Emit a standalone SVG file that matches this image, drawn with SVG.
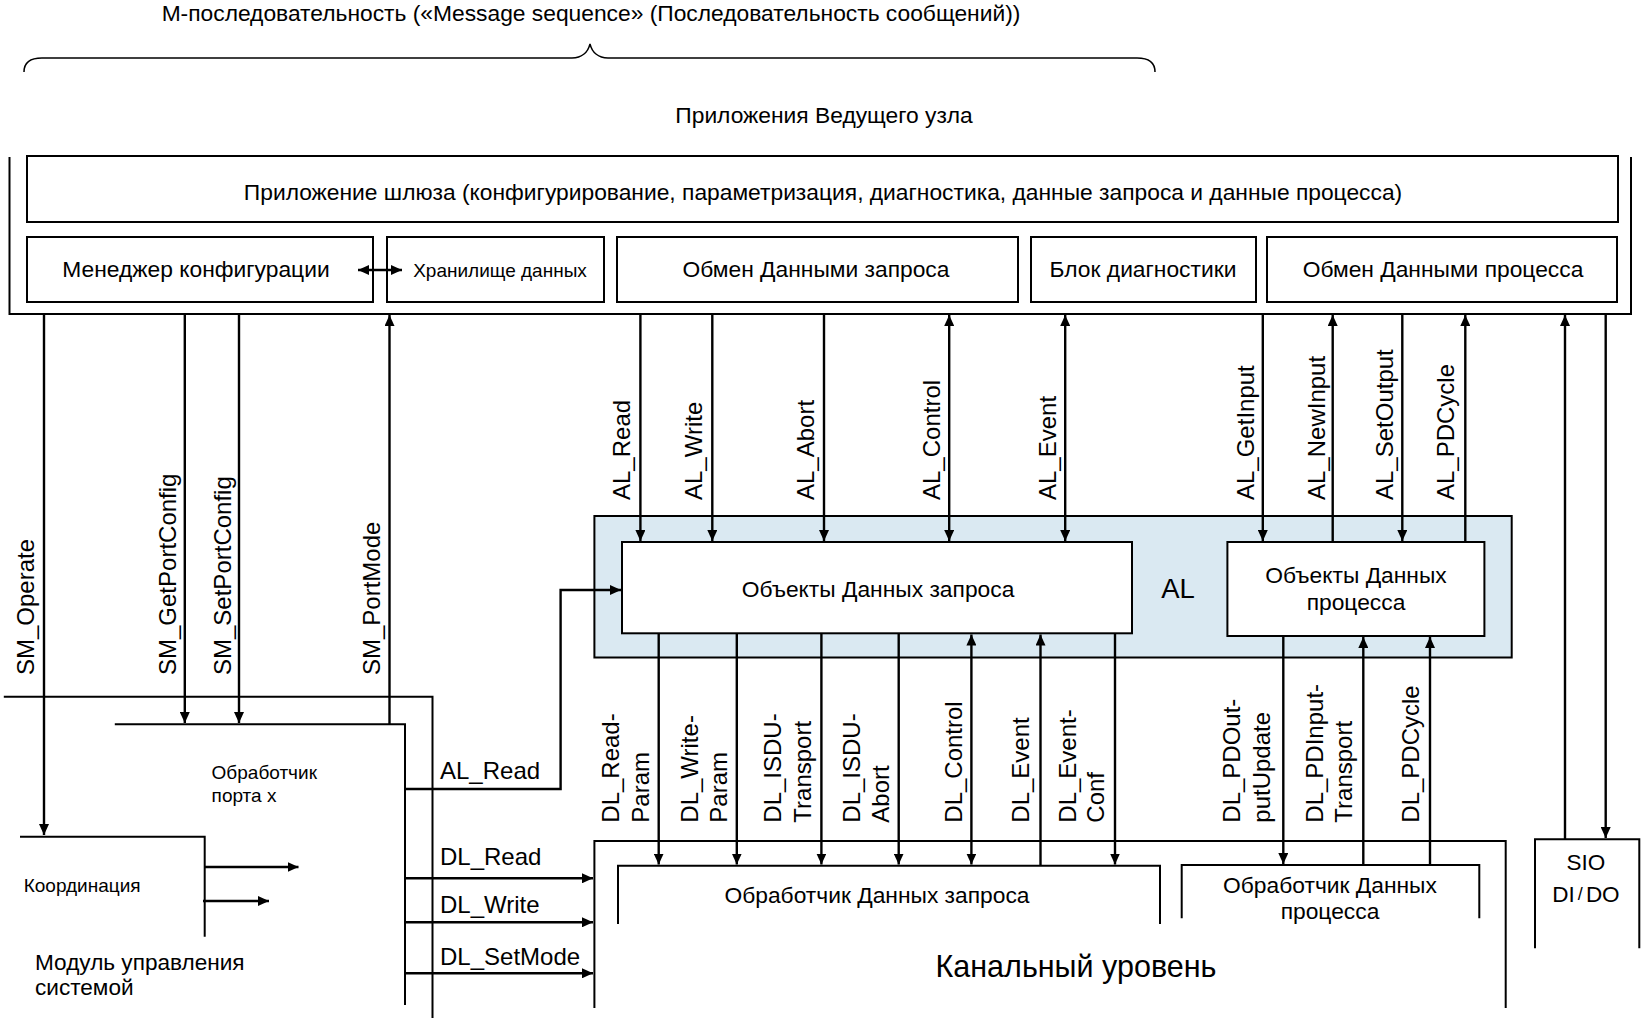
<svg xmlns="http://www.w3.org/2000/svg" width="1643" height="1023" viewBox="0 0 1643 1023">
<style>
.t{font-family:"Liberation Sans",Arial,sans-serif;fill:#000}
.m{text-anchor:middle}
.f22{font-size:22.8px}
.f19{font-size:19px}
.vl{font-family:"Liberation Sans",Arial,sans-serif;font-size:24px;fill:#000}
.box{fill:#fff;stroke:#000;stroke-width:2}
.ln{fill:none;stroke:#000;stroke-width:2}
.ar{fill:none;stroke:#000;stroke-width:2.4;marker-end:url(#ah)}
.ar2{fill:none;stroke:#000;stroke-width:2.4;marker-start:url(#ah);marker-end:url(#ah)}
</style>
<defs>
<marker id="ah" markerUnits="userSpaceOnUse" viewBox="0 0 11 10" markerWidth="11" markerHeight="10" refX="11" refY="5" orient="auto-start-reverse"><path d="M0,0 L11,5 L0,10 Z" fill="#000"/></marker>
</defs>
<rect width="1643" height="1023" fill="#fff"/>

<g id="title">
<text class="t f22 m" x="591" y="21">М-последовательность («Message sequence» (Последовательность сообщений))</text>
<path class="ln" style="stroke-width:1.5" d="M24,72 C24,63 30,58 42,58 L572,58 C582,58 588,52 590,44 C592,52 598,58 608,58 L1137,58 C1149,58 1155,63 1155,72"/>
</g>

<g id="master">
<text class="t f22 m" x="824" y="123">Приложения Ведущего узла</text>
<path class="ln" d="M9.5,157 V314 H1631 V157"/>
</g>

<g id="gateway">
<rect class="box" x="27" y="156" width="1591" height="66"/>
<text class="t f22 m" x="823" y="200">Приложение шлюза (конфигурирование, параметризация, диагностика, данные запроса и данные процесса)</text>
</g>

<g id="config-manager">
<rect class="box" x="27" y="237" width="346" height="65"/>
<text class="t f22 m" x="196" y="277">Менеджер конфигурации</text>
</g>
<g id="data-storage">
<rect class="box" x="387" y="237" width="217" height="65"/>
<text class="t f19 m" x="500" y="277">Хранилище данных</text>
</g>
<g id="odx">
<rect class="box" x="617" y="237" width="401" height="65"/>
<text class="t f22 m" x="816" y="277">Обмен Данными запроса</text>
</g>
<g id="diag">
<rect class="box" x="1031" y="237" width="225" height="65"/>
<text class="t f22 m" x="1143" y="277">Блок диагностики</text>
</g>
<g id="pdx">
<rect class="box" x="1267" y="237" width="350" height="65"/>
<text class="t f22 m" x="1443" y="277">Обмен Данными процесса</text>
</g>

<g id="al">
<rect x="594.4" y="516" width="917.3" height="141.5" fill="#dae9f2" stroke="#000" stroke-width="2"/>
<text class="t m" style="font-size:27.5px" x="1178" y="598">AL</text>
</g>
<g id="od-objects">
<rect class="box" x="622" y="542" width="510" height="91.3"/>
<text class="t f22 m" x="878" y="597">Объекты Данных запроса</text>
</g>
<g id="pd-objects">
<rect class="box" x="1227.4" y="542" width="257" height="94"/>
<text class="t f22 m" x="1356" y="583">Объекты Данных</text>
<text class="t f22 m" x="1356" y="610">процесса</text>
</g>

<g id="datalink">
<path class="ln" d="M594.4,1008 V841 H1505.7 V1008"/>
<text class="t m" style="font-size:30.5px" x="1076" y="977">Канальный уровень</text>
</g>
<g id="od-handler">
<path class="ln" d="M618,924 V865.7 H1160 V924"/>
<text class="t f22 m" x="877" y="903">Обработчик Данных запроса</text>
</g>
<g id="pd-handler">
<path class="ln" d="M1181.7,918.3 V865 H1479.3 V918.3"/>
<text class="t f22 m" x="1330" y="893">Обработчик Данных</text>
<text class="t f22 m" x="1330" y="919">процесса</text>
</g>
<g id="sio">
<path class="ln" d="M1535,948.3 V839.3 H1639.3 V948.3"/>
<text class="t m" style="font-size:22.5px" x="1586" y="870">SIO</text>
<text class="t m" style="font-size:22.5px" x="1586" y="902">DI<tspan font-size="18" dx="3" dy="-2">/</tspan><tspan dx="3" dy="2">DO</tspan></text>
</g>

<g id="port-handler">
<path class="ln" d="M3.8,696.7 H432.5 V1018"/>
<path class="ln" d="M114.8,724.3 H405 V1005"/>
<text class="t f19" x="211.6" y="779">Обработчик</text>
<text class="t f19" x="211.6" y="801.7">порта x</text>
</g>
<g id="coordination">
<path class="ln" d="M20,836.7 H204.7 V936.7"/>
<text class="t f19" x="23.7" y="892">Координация</text>
</g>
<g id="sms">
<text class="t" style="font-size:22.6px" x="35" y="970">Модуль управления</text>
<text class="t" style="font-size:22.6px" x="35" y="995">системой</text>
</g>

<g id="connectors">
<path class="ar2" d="M358,270 H402"/>
<path class="ar" d="M44,314 V835"/>
<path class="ar" d="M184.8,314 V723"/>
<path class="ar" d="M239,314 V723"/>
<path class="ar" d="M389.5,725 V315"/>
<path class="ar" d="M640.4,314 V541"/>
<path class="ar" d="M712.3,314 V541"/>
<path class="ar" d="M824,314 V541"/>
<path class="ar2" d="M949.2,315 V541"/>
<path class="ar2" d="M1065.2,315 V541"/>
<path class="ar" d="M1262.8,314 V541"/>
<path class="ar" d="M1332.7,542 V315"/>
<path class="ar" d="M1402.3,314 V541"/>
<path class="ar" d="M1465.3,542 V315"/>
<path class="ar" d="M1565,839 V315"/>
<path class="ar" d="M1605.7,314 V838"/>
<path class="ar" d="M658.7,633 V864.5"/>
<path class="ar" d="M736.8,633 V864.5"/>
<path class="ar" d="M821.4,633 V864.5"/>
<path class="ar" d="M898.7,633 V864.5"/>
<path class="ar2" d="M971.4,634.5 V864.5"/>
<path class="ar" d="M1040.5,866 V634.5"/>
<path class="ar" d="M1115,633 V864.5"/>
<path class="ar" d="M1283.3,636 V864"/>
<path class="ar" d="M1363.3,865 V637"/>
<path class="ar" d="M1430,865 V637"/>
<path class="ar" d="M405,789 H560.6 V590 H621"/>
<path class="ar" d="M405,878.3 H593"/>
<path class="ar" d="M405,922.3 H593"/>
<path class="ar" d="M405,973.3 H593"/>
<path class="ar" d="M204.7,867 H298.5"/>
<path class="ar" d="M203,901 H269"/>
</g>

<g id="labels">
<text class="vl" transform="translate(33.5,675) rotate(-90)">SM_Operate</text>
<text class="vl" transform="translate(176,675) rotate(-90)">SM_GetPortConfig</text>
<text class="vl" transform="translate(230.5,675) rotate(-90)">SM_SetPortConfig</text>
<text class="vl" transform="translate(380,675) rotate(-90)">SM_PortMode</text>
<text class="vl" transform="translate(630,500) rotate(-90)">AL_Read</text>
<text class="vl" transform="translate(702,500) rotate(-90)">AL_Write</text>
<text class="vl" transform="translate(814.3,500) rotate(-90)">AL_Abort</text>
<text class="vl" transform="translate(940,500) rotate(-90)">AL_Control</text>
<text class="vl" transform="translate(1056,500) rotate(-90)">AL_Event</text>
<text class="vl" transform="translate(1254,500) rotate(-90)">AL_GetInput</text>
<text class="vl" transform="translate(1325,500) rotate(-90)">AL_NewInput</text>
<text class="vl" transform="translate(1392.5,500) rotate(-90)">AL_SetOutput</text>
<text class="vl" transform="translate(1454,500) rotate(-90)">AL_PDCycle</text>
<text class="vl" transform="translate(619,822.7) rotate(-90)"><tspan x="0" y="0">DL_Read-</tspan><tspan x="0" y="29.5">Param</tspan></text>
<text class="vl" transform="translate(697.5,822.7) rotate(-90)"><tspan x="0" y="0">DL_Write-</tspan><tspan x="0" y="29.5">Param</tspan></text>
<text class="vl" transform="translate(781,822.7) rotate(-90)"><tspan x="0" y="0">DL_ISDU-</tspan><tspan x="0" y="29.5">Transport</tspan></text>
<text class="vl" transform="translate(860,822.7) rotate(-90)"><tspan x="0" y="0">DL_ISDU-</tspan><tspan x="0" y="29">Abort</tspan></text>
<text class="vl" transform="translate(961.5,822.7) rotate(-90)">DL_Control</text>
<text class="vl" transform="translate(1028.5,822.7) rotate(-90)">DL_Event</text>
<text class="vl" transform="translate(1075.5,822.7) rotate(-90)"><tspan x="0" y="0">DL_Event-</tspan><tspan x="0" y="28">Conf</tspan></text>
<text class="vl" transform="translate(1240,822.7) rotate(-90)"><tspan x="0" y="0">DL_PDOut-</tspan><tspan x="0" y="30">putUpdate</tspan></text>
<text class="vl" transform="translate(1322.5,822.7) rotate(-90)"><tspan x="0" y="0">DL_PDInput-</tspan><tspan x="0" y="29">Transport</tspan></text>
<text class="vl" transform="translate(1418.5,822.7) rotate(-90)">DL_PDCycle</text>
<text class="vl" x="440" y="779">AL_Read</text>
<text class="vl" x="440" y="865">DL_Read</text>
<text class="vl" x="440" y="913">DL_Write</text>
<text class="vl" x="440" y="965">DL_SetMode</text>
</g>
</svg>
